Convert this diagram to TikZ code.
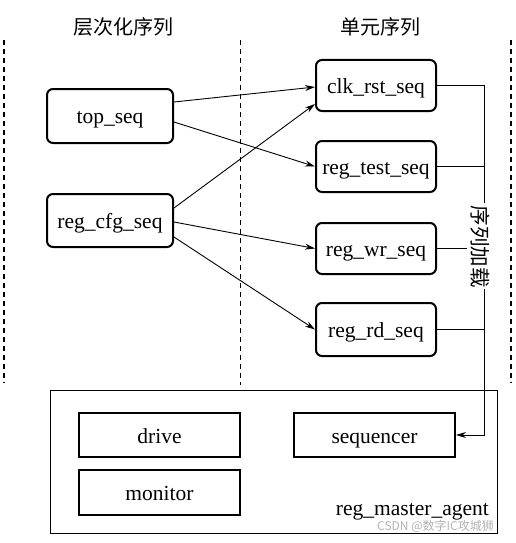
\documentclass[tikz,border=0pt]{standalone}
\usepackage{fontspec}
\setmainfont{Liberation Serif}
\newfontfamily\cjk{Noto Sans CJK SC}
\usetikzlibrary{arrows.meta}
\begin{document}
\begin{tikzpicture}[x=1pt,y=-1pt,
  seqbox/.style={draw,line width=2pt,rounded corners=6pt,minimum width=120pt,minimum height=51pt,inner sep=0pt,text height=17pt,text depth=2pt,font=\fontsize{21.5}{24}\selectfont},
  compbox/.style={draw,line width=2pt,minimum width=161pt,minimum height=44pt,inner sep=0pt,text height=18pt,text depth=2pt,font=\fontsize{21.5}{24}\selectfont},
  conn/.style={line width=0.9pt,-{Stealth[length=10pt,width=6pt]}},
  bus/.style={line width=0.9pt},
  sepline/.style={dash pattern=on 5pt off 4pt},
  title/.style={font=\cjk\fontsize{20}{22}\selectfont}]
\useasboundingbox (0,0) rectangle (515,543);
% separators
\coordinate (l1) at (4,40); \coordinate (l2) at (4,383);
\coordinate (m1) at (240.7,40); \coordinate (m2) at (240.7,385);
\coordinate (r1) at (511,40); \coordinate (r2) at (511,383);
\draw[sepline,line width=1.4pt] (l1) -- (l2);
\draw[sepline,line width=0.8pt] (m1) -- (m2);
\draw[sepline,line width=1.4pt] (r1) -- (r2);
% titles
\node[title] (t1) at (123,27) {层次化序列};
\node[title] (t2) at (380,27) {单元序列};
% hierarchical sequences
\node[seqbox,minimum width=126pt,minimum height=54pt] (top) at (110,116) {top\_seq};
\node[seqbox,minimum width=126pt,minimum height=53pt] (cfg) at (110,220.5) {reg\_cfg\_seq};
% unit sequences
\node[seqbox] (clk) at (376,85.5) {clk\_rst\_seq};
\node[seqbox] (test) at (376,166.5) {reg\_test\_seq};
\node[seqbox] (wr) at (376,248.5) {reg\_wr\_seq};
\node[seqbox,minimum height=53pt] (rd) at (376,329.5) {reg\_rd\_seq};
% agent
\node[draw,line width=1pt,minimum width=447pt,minimum height=143pt,inner sep=0pt] (agent) at (273.5,461.5) {};
\node[compbox] (drive) at (159.5,435) {drive};
\node[compbox] (seqr) at (374.5,435) {sequencer};
\node[compbox,minimum height=45pt] (mon) at (159.5,492.5) {monitor};
\node[anchor=east,inner sep=0pt,font=\fontsize{21.5}{24}\selectfont] (alabel) at (489,512) {reg\_master\_agent};
% arrows
\draw[conn] ([yshift=14pt]top.east) -- ([yshift=-1.5pt]clk.west);
\draw[conn] ([yshift=-6pt]top.east) -- (test.west);
\draw[conn] ([yshift=12.5pt]cfg.east) -- ([yshift=-18.5pt]clk.west);
\draw[conn] ([yshift=-1.5pt]cfg.east) -- (wr.west);
\draw[conn] ([yshift=-16.5pt]cfg.east) -- (rd.west);
% bus
\node[font=\cjk\fontsize{20.5}{22}\selectfont,rotate=-90,inner sep=0pt] (load) at (480,246.5) {序列加载};
\coordinate (b1) at (484,203);
\coordinate (b2) at (484,289);
\coordinate (wrend) at (467,248.5);
\draw[bus] (clk.east) -| (b1);
\draw[bus] (test.east) -- (test.east -| b1);
\draw[bus] (wr.east) -- (wrend);
\draw[bus] (rd.east) -- (rd.east -| b2);
\draw[conn] (b2) |- (seqr.east);
% watermark
\node[font=\cjk\fontsize{12}{14}\selectfont,text=black!30,anchor=west,inner sep=0pt] (wm) at (377,526) {CSDN @数字IC攻城狮};
\end{tikzpicture}
\end{document}
